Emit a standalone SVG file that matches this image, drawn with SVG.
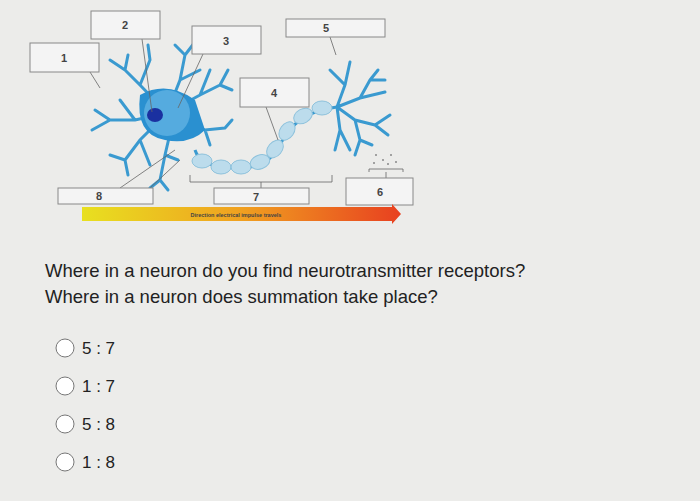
<svg xmlns="http://www.w3.org/2000/svg" width="700" height="501" viewBox="0 0 700 501">
<defs>
<linearGradient id="g" x1="0" x2="1"><stop offset="0" stop-color="#e8e020"/><stop offset="0.5" stop-color="#f0a020"/><stop offset="1" stop-color="#e84020"/></linearGradient>
<style>
.box{fill:#f4f4f4;stroke:#888;stroke-width:1}
.lbl{font-family:"Liberation Sans",Arial,sans-serif;font-size:11px;font-weight:bold;fill:#444;text-anchor:middle}
.ln{stroke:#666;stroke-width:0.8;fill:none}
.d{stroke:#3a9ad0;stroke-width:3;fill:none;stroke-linecap:round}
.q{font-family:"Liberation Sans",Arial,sans-serif;font-size:18.5px;fill:#222}
.o{font-family:"Liberation Sans",Arial,sans-serif;font-size:17px;fill:#222}
.c{fill:#fff;stroke:#777;stroke-width:1}
</style>
</defs>
<rect width="700" height="501" fill="#ececea"/>
<g id="neuron">
<g class="d">
<path d="M167,113 L140,85 L125,70 M140,85 L150,60 M125,70 L110,60 M125,70 L128,55 M150,60 L148,45"/>
<path d="M167,113 L180,80 L185,55 M180,80 L200,70 M185,55 L175,45 M185,55 L195,42"/>
<path d="M167,113 L200,95 L220,85 M220,85 L232,90 M220,85 L228,70 M200,95 L210,70"/>
<path d="M167,113 L135,120 L110,120 M110,120 L95,110 M110,120 L92,130 M135,120 L120,100"/>
<path d="M167,113 L140,140 L125,160 M125,160 L110,155 M125,160 L128,175 M140,140 L150,165"/>
<path d="M172,125 L165,155 L160,180 M160,180 L150,188 M160,180 L168,190 M165,155 L178,160"/>
<path d="M185,120 L205,130 L225,128 M205,130 L210,145 M225,128 L232,120"/>
<path d="M337,107 L360,98 L385,92 M360,98 L370,80 M370,80 L378,70 M370,80 L385,80 M337,107 L345,85 L330,70 M345,85 L350,62 M337,107 L355,120 L375,125 M355,120 L360,140 L355,155 M360,140 L372,145 M337,107 L340,130 L335,150 M340,130 L350,150 M375,125 L390,115 M375,125 L388,135"/>
</g>
<path d="M140,95 Q167,80 195,100 L205,130 Q190,145 165,140 Q135,135 140,95Z" fill="#2a90d0"/>
<circle cx="167" cy="113" r="23" fill="#5aaee0" opacity="0.9"/>
<ellipse cx="155" cy="115" rx="8" ry="7" fill="#1a30a0"/>
<path d="M195,150 Q200,168 240,168 Q268,168 280,145 Q295,112 337,107" stroke="#3a9ad0" stroke-width="3" fill="none"/>
<g fill="#bcdcec" stroke="#8ec2dc" stroke-width="1">
<ellipse cx="202" cy="161" rx="10" ry="7"/><ellipse cx="221" cy="167" rx="10" ry="7"/><ellipse cx="241" cy="167" rx="10" ry="7"/><ellipse cx="260" cy="162" rx="10" ry="7" transform="rotate(-20 260 162)"/><ellipse cx="275" cy="149" rx="10" ry="7" transform="rotate(-50 275 149)"/><ellipse cx="287" cy="131" rx="10" ry="7" transform="rotate(-55 287 131)"/><ellipse cx="303" cy="116" rx="10" ry="7" transform="rotate(-30 303 116)"/><ellipse cx="322" cy="108" rx="10" ry="7"/>
</g>
<g fill="#888"><circle cx="376" cy="155" r="1"/><circle cx="383" cy="160" r="1"/><circle cx="391" cy="155" r="1"/><circle cx="374" cy="163" r="1"/><circle cx="388" cy="164" r="1"/><circle cx="396" cy="162" r="1"/></g>
</g>
<g id="connectors" class="ln">
<path d="M90,72 L100,88"/><path d="M142,39 L152,112"/><path d="M203,54 L178,108"/><path d="M266,107 L278,140"/><path d="M330,37 L336,55"/>
<path d="M120,188 L175,150 M150,188 L180,160"/>
<path d="M190,175 L190,182 L332,182 L332,175 M261,182 L261,188"/>
<path d="M369,172 L369,169 L403,169 L403,172 M386,172 L386,178"/>
</g>
<g id="box1"><rect class="box" x="30" y="43" width="69" height="29"/><text class="lbl" x="64" y="62">1</text></g>
<g id="box2"><rect class="box" x="91" y="11" width="69" height="28"/><text class="lbl" x="125" y="29">2</text></g>
<g id="box3"><rect class="box" x="192" y="26" width="69" height="28"/><text class="lbl" x="226" y="45">3</text></g>
<g id="box4"><rect class="box" x="240" y="78" width="69" height="29"/><text class="lbl" x="274" y="97">4</text></g>
<g id="box5"><rect class="box" x="286" y="19" width="99" height="18"/><text class="lbl" x="326" y="32">5</text></g>
<g id="box6"><rect class="box" x="346" y="178" width="67" height="27"/><text class="lbl" x="380" y="196">6</text></g>
<g id="box7"><rect class="box" x="214" y="188" width="95" height="16"/><text class="lbl" x="256" y="201">7</text></g>
<g id="box8"><rect class="box" x="58" y="188" width="95" height="16"/><text class="lbl" x="99" y="200">8</text></g>
<g id="arrow"><path d="M82,207 L392,207 L392,204 L401,214 L392,224 L392,221 L82,221Z" fill="url(#g)"/>
<text x="236" y="217" font-family="Liberation Sans,Arial,sans-serif" font-size="5.5" font-weight="bold" fill="#444" text-anchor="middle">Direction electrical impulse travels</text></g>
<text class="q" x="45" y="277">Where in a neuron do you find neurotransmitter receptors?</text>
<text class="q" x="45" y="303">Where in a neuron does summation take place?</text>
<g id="opt1"><circle class="c" cx="65" cy="348" r="9"/><text class="o" x="82" y="354">5 : 7</text></g>
<g id="opt2"><circle class="c" cx="65" cy="386" r="9"/><text class="o" x="82" y="392">1 : 7</text></g>
<g id="opt3"><circle class="c" cx="65" cy="424" r="9"/><text class="o" x="82" y="430">5 : 8</text></g>
<g id="opt4"><circle class="c" cx="65" cy="462" r="9"/><text class="o" x="82" y="468">1 : 8</text></g>
</svg>
